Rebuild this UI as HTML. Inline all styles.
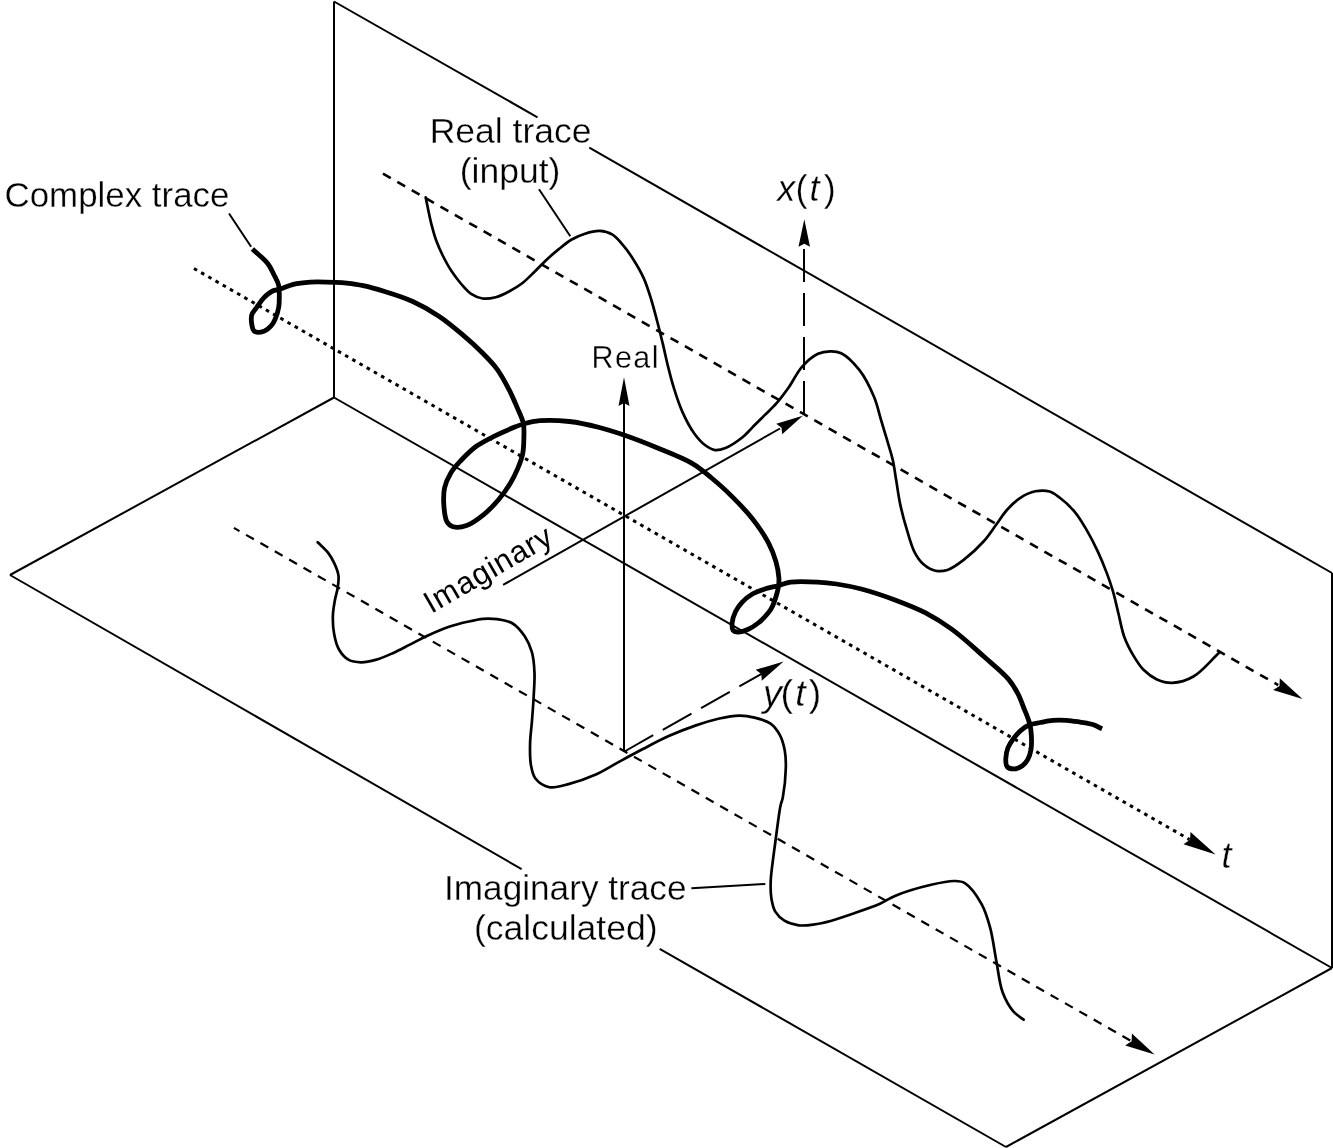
<!DOCTYPE html>
<html><head><meta charset="utf-8"><style>
html,body{margin:0;padding:0;background:#fff;}
svg{display:block;will-change:transform;}
line,path{stroke:#000;fill:none;stroke-width:2;}
.tr{stroke-width:2.7;stroke-linejoin:round;stroke-linecap:round;}
.cx{stroke-width:4.8;stroke-linejoin:round;stroke-linecap:butt;}
.dash{stroke-width:2.6;stroke-dasharray:9 7.56;stroke-dashoffset:-1.1;}
.dash2{stroke-width:2.2;stroke-dasharray:9 7.55;stroke-dashoffset:2.55;}
.dot{stroke-width:3;stroke-dasharray:3.6 4.7;stroke-dashoffset:-0.6;}
.ldash{stroke-dasharray:33 11;}
.fill{fill:#000;stroke:none;}
text{font-family:"Liberation Sans",sans-serif;fill:#000;stroke:#fff;stroke-width:0.3;}
</style></head><body>
<svg width="1333" height="1148" viewBox="0 0 1333 1148">
<line x1="334" y1="1.5" x2="334" y2="397.5"/>
<line x1="334" y1="1.5" x2="537.5" y2="117.3"/>
<line x1="589.3" y1="147.7" x2="1332" y2="573"/>
<line x1="1332" y1="573" x2="1332" y2="968"/>
<line x1="334" y1="397.5" x2="1332" y2="968"/>
<line x1="334" y1="397.5" x2="10" y2="575"/>
<line x1="10" y1="575" x2="521.6" y2="869.1"/>
<line x1="659.7" y1="948.8" x2="1006" y2="1147"/>
<line x1="1006" y1="1147" x2="1332" y2="968"/>
<line x1="229" y1="213.5" x2="251.1" y2="246.7"/>
<line x1="539" y1="189.3" x2="570.3" y2="236.2"/>
<line x1="691.4" y1="888.2" x2="765.3" y2="884"/>
<line class="dash" x1="382" y1="173.2" x2="1278.2" y2="685.1"/>
<path class="fill" d="M1302.5,699.0 L1273.1,690.0 L1279.5,685.9 L1279.8,678.2 Z"/>
<line class="dash2" x1="233.9" y1="527.9" x2="1130.3" y2="1040.5"/>
<path class="fill" d="M1154.6,1054.4 L1125.2,1045.4 L1131.6,1041.2 L1131.9,1033.6 Z"/>
<line class="dot" x1="193.4" y1="268.2" x2="1189.6" y2="839.6"/>
<path class="fill" d="M1215.6,854.5 L1183.5,844.2 L1190.0,839.8 L1190.5,832.0 Z"/>
<line x1="624" y1="751.5" x2="624" y2="400"/>
<path class="fill" d="M624.0,377.3 L629.5,406.0 L624.0,403.0 L618.5,406.0 Z"/>
<line x1="503.1" y1="584.9" x2="780" y2="428.5"/>
<path class="fill" d="M802.8,415.8 L782.2,434.3 L781.5,427.8 L776.3,423.8 Z"/>
<line class="ldash" x1="804" y1="414" x2="804" y2="246"/>
<path class="fill" d="M804.3,219.2 L810.0,246.7 L804.3,243.7 L798.5,246.7 Z"/>
<line class="ldash" x1="624.5" y1="751.5" x2="762" y2="673.6"/>
<path class="fill" d="M783.6,661.4 L761.8,680.8 L761.3,673.9 L755.7,669.8 Z"/>
<path class="tr" d="M425.7,197.4 C426.5,201.5 427.3,205.5 428.2,209.8 C429.2,214.5 430.2,219.6 431.5,224.6 C432.9,230.0 434.4,235.8 436.4,241.1 C438.3,246.3 440.5,251.1 443.0,256.0 C445.5,261.0 448.2,266.1 451.3,270.8 C454.3,275.4 457.8,280.0 461.2,284.0 C464.4,287.7 467.4,291.5 471.1,293.9 C474.6,296.2 478.6,297.9 482.6,298.5 C486.8,299.1 491.5,298.3 495.8,297.2 C500.3,296.0 504.7,293.8 509.0,291.5 C513.5,289.1 518.1,286.4 522.2,283.2 C526.3,280.0 530.0,276.2 533.8,272.5 C537.7,268.8 541.3,264.7 545.3,260.9 C549.5,257.0 554.0,253.0 558.5,249.4 C562.8,245.9 567.1,242.2 571.7,239.5 C576.0,237.0 580.4,235.1 585.0,233.7 C589.7,232.2 595.1,230.7 599.8,230.9 C604.2,231.1 608.7,232.4 612.5,234.6 C616.5,237.0 619.7,241.2 623.0,245.1 C626.7,249.4 630.2,254.4 633.5,259.7 C637.2,265.5 641.0,272.0 643.9,278.6 C646.9,285.3 649.0,292.3 651.2,299.5 C653.5,306.9 655.5,315.0 657.5,322.5 C659.4,329.6 661.0,336.3 662.7,343.4 C664.5,350.9 666.1,358.8 668.0,366.4 C669.9,374.1 671.9,381.8 674.3,389.4 C676.7,397.1 679.3,405.0 682.6,412.4 C685.9,419.7 690.0,427.6 694.1,433.3 C697.4,437.9 700.8,441.9 704.6,444.8 C707.9,447.3 711.4,449.6 715.0,450.1 C718.4,450.6 721.7,449.5 725.5,448.0 C730.6,446.0 737.5,441.2 742.2,437.5 C746.2,434.4 748.7,431.1 752.2,427.6 C756.1,423.8 760.3,419.5 764.4,415.4 C768.5,411.3 772.7,407.7 776.6,403.2 C780.8,398.4 784.8,393.0 788.8,387.3 C793.3,380.9 797.0,372.3 802.2,366.6 C806.9,361.4 812.8,356.3 818.0,353.8 C822.1,351.9 826.2,351.4 830.2,351.3 C834.0,351.2 837.4,351.3 841.2,353.2 C846.9,356.0 854.2,363.4 859.5,370.2 C865.4,377.8 870.4,388.2 874.1,397.1 C877.5,405.3 879.0,413.4 881.5,421.5 C883.9,429.6 886.8,438.9 888.8,445.9 C890.4,451.2 891.6,454.8 892.8,460.0 C894.2,466.1 895.0,473.2 896.2,480.3 C897.5,488.0 898.5,496.4 900.3,504.6 C902.1,513.1 904.5,522.1 907.0,530.2 C909.3,537.7 911.3,545.8 914.4,551.8 C916.9,556.7 919.6,560.8 923.2,564.0 C926.7,567.1 931.2,569.8 935.4,570.7 C939.3,571.6 943.3,571.3 947.5,570.0 C952.7,568.3 958.2,564.1 963.7,559.9 C970.3,554.8 978.3,547.3 984.0,541.0 C988.8,535.6 992.2,530.1 996.1,524.8 C999.8,519.8 1002.8,514.5 1006.9,510.0 C1010.9,505.5 1015.5,501.0 1020.4,497.8 C1025.0,494.8 1030.3,492.3 1035.3,491.3 C1040.0,490.4 1045.4,490.3 1049.6,491.5 C1053.3,492.6 1055.8,494.7 1059.2,497.3 C1063.9,500.8 1070.0,506.3 1074.5,511.6 C1079.0,516.9 1082.3,522.7 1086.0,528.9 C1090.0,535.7 1094.0,543.4 1097.5,550.9 C1101.0,558.4 1104.4,566.7 1107.1,573.9 C1109.4,580.0 1111.1,585.0 1112.9,591.2 C1115.0,598.3 1116.7,606.5 1118.6,614.2 C1120.5,621.9 1121.7,630.0 1124.4,637.2 C1126.9,644.0 1130.5,650.7 1133.9,656.4 C1136.9,661.4 1139.7,666.0 1143.5,669.8 C1147.3,673.6 1152.0,677.2 1156.9,679.4 C1161.7,681.5 1166.8,683.0 1172.3,682.8 C1178.8,682.6 1186.5,680.5 1193.4,676.5 C1202.2,671.5 1210.7,660.5 1219.3,652.5"/>
<path class="tr" d="M317.7,542.2 C321.1,545.7 325.2,549.0 328.0,552.6 C330.5,555.9 332.4,559.2 334.1,562.9 C335.9,566.7 337.8,571.0 338.4,575.1 C339.0,579.1 338.4,583.2 337.8,587.3 C337.2,591.7 335.6,596.1 334.8,600.7 C334.0,605.5 333.1,610.2 332.9,615.4 C332.7,621.2 333.0,627.9 334.1,633.7 C335.1,639.2 336.4,645.0 339.0,649.5 C341.4,653.7 345.0,657.8 348.8,659.9 C352.4,661.9 356.7,662.2 361.0,662.3 C365.6,662.4 370.6,661.3 375.6,659.9 C381.2,658.4 387.1,655.7 392.7,653.2 C398.5,650.6 404.1,647.5 409.8,644.6 C415.6,641.7 421.2,638.5 427.4,635.7 C434.0,632.7 441.4,629.4 448.3,627.0 C454.8,624.8 461.4,623.2 467.5,621.8 C472.9,620.5 478.0,619.2 483.1,618.8 C487.9,618.4 492.4,618.5 497.1,619.2 C502.2,620.0 508.1,620.7 512.7,623.5 C517.5,626.4 521.7,631.8 524.9,636.6 C528.0,641.3 530.3,646.5 531.9,652.2 C533.7,658.5 534.2,665.9 534.5,673.1 C534.8,680.9 534.0,689.4 533.6,697.5 C533.2,705.6 532.5,714.1 531.9,721.9 C531.3,729.1 530.3,735.7 530.1,742.8 C529.9,750.2 529.8,759.0 531.0,765.4 C531.9,770.4 532.6,774.9 535.4,778.5 C538.5,782.4 544.0,786.1 549.3,787.2 C555.2,788.4 562.3,785.7 569.3,783.9 C577.3,781.9 586.5,778.7 594.6,775.1 C602.7,771.5 610.0,766.7 618.0,762.4 C626.3,757.9 634.9,753.2 643.4,748.8 C651.8,744.4 660.0,740.0 668.7,736.1 C677.5,732.2 687.2,728.4 696.0,725.4 C704.0,722.6 711.9,720.2 719.4,718.5 C726.2,717.0 732.8,715.7 739.0,715.6 C744.5,715.5 749.4,716.3 754.5,717.6 C759.8,718.9 765.9,720.4 770.2,723.4 C774.3,726.3 777.5,730.7 779.9,735.1 C782.4,739.7 783.8,745.3 784.8,750.7 C785.8,756.3 786.0,761.7 785.8,768.3 C785.6,776.8 784.1,790.8 782.8,797.5 C782.1,801.1 781.2,802.4 780.5,805.7 C779.5,810.3 778.7,816.8 777.9,822.7 C777.0,829.0 776.2,835.8 775.3,842.3 C774.4,848.8 773.5,855.4 772.7,861.9 C771.9,868.4 770.9,875.2 770.7,881.5 C770.5,887.4 770.5,893.3 771.4,898.5 C772.2,903.2 773.1,907.9 775.3,911.6 C777.5,915.2 780.7,918.4 784.4,920.7 C788.4,923.1 793.9,924.7 798.8,925.3 C803.5,925.9 808.1,925.3 813.2,924.6 C819.0,923.9 825.3,922.4 831.5,920.7 C838.0,918.9 844.0,916.7 851.1,914.2 C859.8,911.2 871.9,907.2 880.0,903.7 C886.1,901.0 889.1,898.3 895.5,895.7 C904.8,891.9 920.5,887.3 931.2,884.8 C939.7,882.8 948.1,880.9 954.3,881.0 C958.5,881.1 961.3,881.0 964.8,883.1 C970.4,886.5 977.4,896.6 981.6,904.1 C985.6,911.3 987.7,918.7 990.0,927.2 C992.8,937.3 994.2,949.8 996.3,960.8 C998.4,971.5 999.3,983.3 1002.6,992.3 C1005.3,999.6 1009.1,1006.4 1013.1,1011.2 C1016.3,1015.0 1020.1,1016.8 1023.6,1019.6"/>
<path class="cx" d="M252.4,248.9 C257.5,253.8 264.0,258.7 267.7,263.5 C270.6,267.2 272.0,270.8 273.8,274.5 C275.6,278.1 277.8,281.6 278.7,285.5 C279.6,289.4 279.3,293.9 279.3,297.7 C279.3,301.1 279.3,304.0 278.7,307.4 C278.0,311.3 276.5,316.3 275.0,319.6 C273.9,322.1 273.0,323.9 271.3,325.7 C269.4,327.8 266.8,330.3 264.0,331.2 C261.1,332.2 256.3,332.6 254.3,331.2 C252.6,330.0 252.2,327.0 251.8,324.5 C251.3,321.6 250.9,317.7 251.8,314.8 C252.6,312.0 254.9,310.0 256.7,307.4 C258.9,304.4 261.3,300.5 264.0,297.7 C266.6,295.1 269.7,292.4 272.6,291.0 C275.0,289.8 277.1,290.0 279.9,289.1 C283.7,287.9 288.5,285.5 293.3,284.3 C298.6,283.0 304.2,282.5 310.4,282.1 C317.8,281.7 328.1,282.1 334.8,282.4 C339.4,282.6 342.3,282.7 346.6,283.2 C351.7,283.8 357.3,284.5 363.1,285.7 C369.8,287.1 377.0,289.1 384.6,291.5 C393.4,294.2 403.7,297.4 412.8,301.5 C422.0,305.7 431.0,310.8 439.3,316.4 C447.5,321.9 455.2,328.4 462.5,334.6 C469.5,340.5 476.3,346.7 482.3,352.8 C487.8,358.3 492.8,363.3 497.2,369.3 C501.7,375.4 505.4,382.6 508.8,389.2 C512.0,395.3 514.6,401.5 517.1,407.4 C519.4,412.8 522.2,418.1 523.3,423.2 C524.3,427.8 524.0,431.9 523.9,436.6 C523.8,442.0 523.8,448.3 522.7,453.7 C521.7,458.8 519.8,463.5 517.8,468.3 C515.7,473.2 513.5,478.0 510.5,482.9 C507.1,488.5 502.8,494.7 498.3,500.0 C493.8,505.3 489.0,510.3 483.7,514.6 C478.4,518.8 472.2,523.7 466.6,525.6 C462.1,527.2 456.6,527.8 453.2,526.8 C450.6,526.0 448.6,524.4 447.1,522.0 C445.0,518.7 444.5,512.6 444.0,507.3 C443.5,501.3 443.3,493.7 444.6,487.8 C445.8,482.5 448.0,477.7 450.7,473.2 C453.3,468.7 456.7,465.1 460.5,461.0 C465.0,456.2 470.7,450.4 476.3,446.3 C481.7,442.4 487.3,439.7 493.4,436.6 C500.2,433.2 509.7,429.1 515.4,426.8 C518.9,425.4 520.6,424.7 523.9,423.8 C528.3,422.6 533.7,421.2 539.8,420.7 C548.1,420.0 559.5,420.4 569.3,421.5 C579.1,422.6 589.2,424.9 598.5,427.3 C607.3,429.5 614.9,432.0 623.9,435.1 C634.3,438.7 645.9,443.2 657.0,447.8 C668.6,452.6 682.4,457.7 692.1,463.4 C699.8,467.9 705.2,472.7 711.6,478.0 C718.2,483.5 724.6,489.1 731.1,495.6 C738.3,502.7 746.3,510.9 752.6,519.0 C758.5,526.6 764.2,534.7 768.2,542.4 C771.7,549.0 774.2,555.6 776.0,561.9 C777.6,567.4 778.6,573.5 778.9,578.0 C779.1,581.1 778.9,583.3 778.5,586.1 C778.1,589.3 777.2,592.7 776.2,596.0 C775.2,599.3 774.0,602.9 772.6,605.9 C771.3,608.6 770.1,610.6 768.1,613.1 C765.6,616.3 761.7,620.2 758.2,623.0 C755.0,625.5 751.8,627.8 748.3,629.3 C744.9,630.8 740.3,632.2 737.5,632.0 C735.7,631.9 733.9,631.4 733.0,630.2 C731.9,628.7 731.9,625.7 732.1,623.0 C732.4,619.5 734.0,614.8 735.7,611.3 C737.3,608.0 739.4,605.1 742.0,602.3 C744.9,599.2 748.9,596.1 752.8,593.8 C756.7,591.6 761.2,590.2 765.4,588.8 C769.6,587.5 773.8,586.8 778.0,585.7 C782.2,584.6 785.6,582.8 790.6,582.1 C797.8,581.1 809.4,581.7 817.6,582.1 C824.5,582.4 829.8,583.0 836.5,584.0 C844.2,585.2 852.5,586.7 861.3,589.0 C871.6,591.7 883.5,595.7 894.3,599.7 C905.0,603.7 915.8,607.8 925.6,612.9 C935.0,617.8 943.0,622.8 952.0,629.4 C962.7,637.2 975.0,648.7 985.0,657.5 C993.5,665.0 1002.4,672.1 1008.2,678.9 C1012.6,684.0 1015.3,688.7 1018.0,693.8 C1020.6,698.7 1022.4,704.6 1024.2,709.0 C1025.6,712.4 1026.8,715.1 1027.8,718.0 C1028.7,720.5 1029.5,722.5 1030.1,725.2 C1030.8,728.4 1031.2,732.2 1031.4,736.0 C1031.6,740.2 1031.7,745.4 1031.0,749.5 C1030.4,753.1 1029.4,756.6 1027.8,759.4 C1026.4,761.9 1024.6,764.1 1022.4,765.7 C1020.1,767.3 1016.9,768.8 1014.3,768.9 C1011.8,769.0 1008.5,768.3 1007.1,766.6 C1005.6,764.9 1005.7,761.4 1005.8,758.5 C1005.9,755.2 1006.7,751.0 1008.0,747.7 C1009.3,744.4 1011.3,741.5 1013.4,738.7 C1015.5,735.8 1017.9,732.9 1020.6,730.6 C1023.3,728.3 1026.3,726.1 1029.6,724.8 C1032.9,723.4 1036.7,723.2 1040.4,722.5 C1044.4,721.7 1048.7,720.7 1053.0,720.3 C1057.4,719.9 1062.0,720.0 1066.5,720.3 C1071.0,720.6 1075.5,721.4 1080.0,722.1 C1084.5,722.9 1089.6,723.5 1093.5,724.8 C1096.8,725.9 1099.2,727.5 1102.1,728.8"/>

<text x="4.5" y="206.9" font-size="34.9">Complex trace</text>
<text x="429.7" y="142.8" font-size="35.5">Real trace</text>
<text x="459.7" y="182.5" font-size="35.5">(input)</text>
<text x="591.5" y="367.9" font-size="30.5" letter-spacing="1.4">Real</text>
<text x="444" y="899.6" font-size="35.2">Imaginary trace</text>
<text x="474" y="939.5" font-size="35.5">(calculated)</text>
<text transform="translate(431.2,614) rotate(-30)" font-size="31" letter-spacing="0.8" style="stroke:none">Imaginary</text>
<text y="201" font-size="36"><tspan x="777.2" font-style="italic">x</tspan><tspan x="795.6">(</tspan><tspan x="809.4" font-style="italic">t</tspan><tspan x="823.7">)</tspan></text>
<text y="706" font-size="37.5"><tspan x="763.1" font-style="italic">y</tspan><tspan x="780.6">(</tspan><tspan x="795.3" font-style="italic">t</tspan><tspan x="808.7">)</tspan></text>
<text x="1221.6" y="867.9" font-size="36" font-style="italic">t</text>

</svg></body></html>
